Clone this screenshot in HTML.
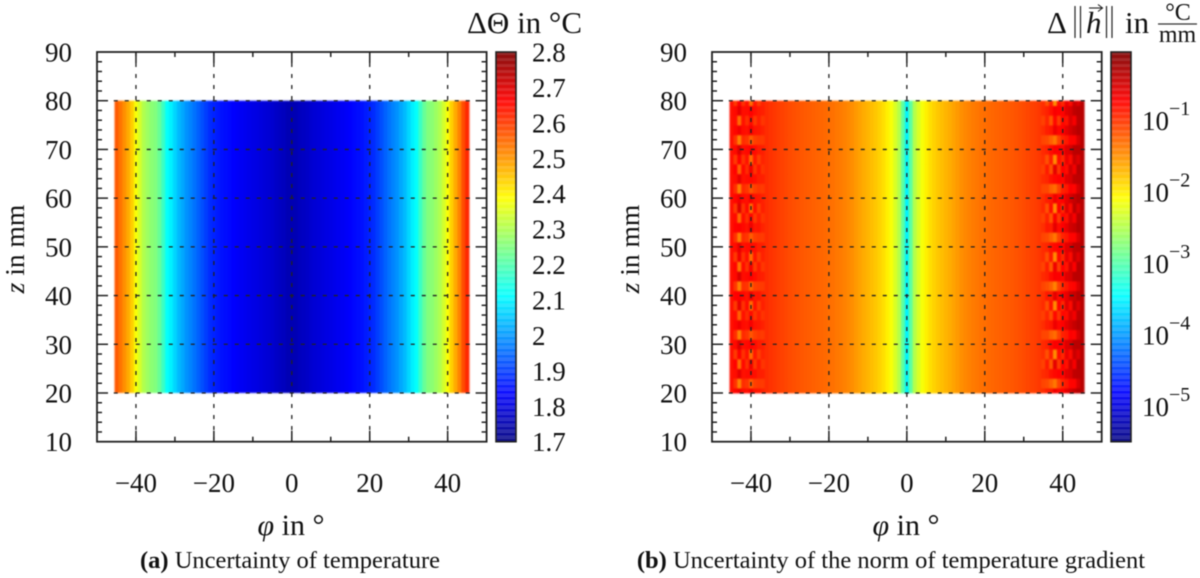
<!DOCTYPE html>
<html lang="en">
<head>
<meta charset="utf-8">
<title>Uncertainty heatmaps</title>
<style>
html,body{margin:0;padding:0;background:#fff;width:1200px;height:578px;overflow:hidden}
svg{display:block;filter:blur(.4px);font-family:"Liberation Serif","DejaVu Serif",serif;fill:#111}
.heat{filter:blur(.7px)}
</style>
</head>
<body>
<svg id="fig" width="1200" height="578" viewBox="0 0 1200 578" xmlns="http://www.w3.org/2000/svg">
  <g id="panel-a"></g>
  <g id="panel-b"></g>

  <text x="467" y="33" font-size="31">ΔΘ in °C</text>
  <text transform="translate(24,249) rotate(-90)" text-anchor="middle" font-size="27.5"><tspan font-style="italic">z</tspan> in mm</text>
  <text x="291" y="535" text-anchor="middle" font-size="30"><tspan font-style="italic">φ</tspan> in °</text>
  <text x="290" y="568" text-anchor="middle" font-size="24.5"><tspan font-weight="bold">(a)</tspan> Uncertainty of temperature</text>

  <g>
    <text x="1047" y="33" font-size="31">Δ</text>
    <line x1="1075" x2="1075" y1="6" y2="38" stroke="#222" stroke-width="1.2"></line>
    <line x1="1080.5" x2="1080.5" y1="6" y2="38" stroke="#222" stroke-width="1.2"></line>
    <text x="1086" y="33" font-size="31" font-style="italic">h</text>
    <line x1="1089" x2="1102" y1="8" y2="8" stroke="#222" stroke-width="1.1"></line>
    <polyline points="1098,4.5 1102.5,8 1098,11.5" fill="none" stroke="#222" stroke-width="1.1"></polyline>
    <line x1="1106.5" x2="1106.5" y1="6" y2="38" stroke="#222" stroke-width="1.2"></line>
    <line x1="1112" x2="1112" y1="6" y2="38" stroke="#222" stroke-width="1.2"></line>
    <text x="1125" y="33" font-size="31">in</text>
  </g>
  <text x="1178" y="20" text-anchor="middle" font-size="24">°C</text>
  <line x1="1158" x2="1197" y1="24" y2="24" stroke="#333" stroke-width="1.2"></line>
  <text x="1177.5" y="42" text-anchor="middle" font-size="24">mm</text>
  <text transform="translate(639,249) rotate(-90)" text-anchor="middle" font-size="27.5"><tspan font-style="italic">z</tspan> in mm</text>
  <text x="906" y="535" text-anchor="middle" font-size="30"><tspan font-style="italic">φ</tspan> in °</text>
  <text x="891" y="568" text-anchor="middle" font-size="24.5"><tspan font-weight="bold">(b)</tspan> Uncertainty of the norm of temperature gradient</text>
</svg>

<script>
// ---- data ----
const phiValues = [-45,-44,-43,-42,-41,-40,-39,-38,-37,-36,-35,-34,-33,-32,-31,-30,-29,-28,-27,-26,-25,-24,-23,-22,-21,-20,-19,-18,-17,-16,-15,-14,-13,-12,-11,-10,-9,-8,-7,-6,-5,-4,-3,-2,-1,0,1,2,3,4,5,6,7,8,9,10,11,12,13,14,15,16,17,18,19,20,21,22,23,24,25,26,27,28,29,30,31,32,33,34,35,36,37,38,39,40,41,42,43,44,45];
const temperatureUncertainty = [2.566,2.537,2.508,2.478,2.439,2.38,2.341,2.302,2.282,2.262,2.253,2.224,2.175,2.116,2.097,2.068,2.038,2.019,1.995,1.98,1.961,1.942,1.922,1.903,1.884,1.874,1.865,1.855,1.85,1.845,1.836,1.831,1.826,1.821,1.816,1.811,1.807,1.802,1.797,1.792,1.787,1.777,1.772,1.767,1.757,1.755,1.757,1.767,1.772,1.777,1.787,1.792,1.797,1.802,1.807,1.811,1.816,1.821,1.826,1.831,1.836,1.845,1.85,1.855,1.865,1.874,1.884,1.903,1.922,1.942,1.961,1.98,1.995,2.019,2.038,2.068,2.097,2.116,2.175,2.224,2.253,2.262,2.282,2.302,2.341,2.38,2.439,2.478,2.52,2.58,2.62];
const gradientUncertainty = [0.152,0.145,0.145,0.142,0.139,0.135,0.13,0.122,0.115,0.108,0.1,0.094,0.088,0.083,0.078,0.074,0.07,0.067,0.064,0.061,0.059,0.057,0.055,0.053,0.051,0.048,0.046,0.043,0.041,0.038,0.035,0.032,0.028,0.025,0.022,0.02,0.018,0.016,0.014,0.012,0.0097,0.0074,0.0051,0.0033,0.0011,0.0003,0.0011,0.0033,0.0051,0.0074,0.0097,0.012,0.014,0.016,0.018,0.02,0.022,0.025,0.028,0.032,0.035,0.038,0.041,0.043,0.046,0.048,0.051,0.053,0.055,0.057,0.059,0.061,0.064,0.067,0.07,0.074,0.078,0.083,0.088,0.094,0.1,0.108,0.115,0.13,0.145,0.16,0.22,0.26,0.32,0.39,0.44];
const zRows = [20,22,24,26,28,30,32,34,36,38,40,42,44,46,48,50,52,54,56,58,60,62,64,66,68,70,72,74,76,78,80];
const edgeRipple = [0.3,-1,0.4,-0.8,0.2,0.5,-1,0.3,-0.7,0.4,0.2,-1,0.5,-0.9,0.3,0.4,-1,0.2,-0.8,0.5,0.3,-1,0.4,-0.7,0.2,0.5,-1,0.3,-0.8,0.4,0.2];
const edgePhi = [-44,-43,-42,-41,-40,-39,-38,-37,35,36,37,38,39,40,41,42,43,44];
const edgeWeight = [0.2,0.6,0.15,0.15,0.45,0.18,0.15,0.1,0.1,0.2,0.3,0.6,0.25,0.15,0.2,0.2,0.25,0.15];
const xMajorTicks = [-40,-20,0,20,40];
const xMinorTicks = [-30,-10,10,30];
const yMajorTicks = [10,20,30,40,50,60,70,80,90];
const yGridValues = [20,30,40,50,60,70,80];
const colorbarTicksA = [1.7,1.8,1.9,2,2.1,2.2,2.3,2.4,2.5,2.6,2.7,2.8];
const colorbarExponentsB = [-5,-4,-3,-2,-1];

// ---- helpers ----
const SVGNS = 'http://www.w3.org/2000/svg';
function make(tag, parent, attrs){
  const e = document.createElementNS(SVGNS, tag);
  for (const k in attrs) e.setAttribute(k, attrs[k]);
  parent.appendChild(e);
  return e;
}
function clamp01(v){ return Math.max(0, Math.min(1, v)); }
function jet(t){
  t = clamp01(t);
  const r = clamp01(1.5 - Math.abs(4*t - 3));
  const g = clamp01(1.5 - Math.abs(4*t - 2));
  const b = clamp01(1.5 - Math.abs(4*t - 1));
  return 'rgb(' + Math.round(r*255) + ',' + Math.round(g*255) + ',' + Math.round(b*255) + ')';
}
const TOP = 52, BOTTOM = 441.7;
function yScale(z){ return BOTTOM - (z - 10) / 80 * (BOTTOM - TOP); }

function drawFrame(g, left, right){
  const xScale = p => left + (p + 50) / 100 * (right - left);
  // dashed grid
  xMajorTicks.forEach(function(p){
    const l = make('line', g, {x1:xScale(p), x2:xScale(p), y1:TOP, y2:BOTTOM, stroke:'#222', 'stroke-width':1.3, 'stroke-dasharray':'4 7'});
    
    
  });
  yGridValues.forEach(function(z){
    const l = make('line', g, {x1:xScale(-45.7), x2:xScale(45.7), y1:yScale(z), y2:yScale(z), stroke:'#222', 'stroke-width':1.3, 'stroke-dasharray':'4 7'});
    
    
  });
  // x ticks (bottom and top)
  xMajorTicks.forEach(function(p){
    [[BOTTOM, BOTTOM-11],[TOP, TOP+11]].forEach(function(pair){
      const t = make('line', g, {x1:xScale(p), x2:xScale(p), y1:pair[0], y2:pair[1], stroke:'#222', 'stroke-width':1.5});
      
      
    });
    const lab = make('text', g, {x:xScale(p), y:492, 'text-anchor':'middle', 'font-size':27});
    lab.textContent = (p < 0 ? '\u2212' + (-p) : String(p));
    
    
  });
  xMinorTicks.forEach(function(p){
    [[BOTTOM, BOTTOM-5],[TOP, TOP+5]].forEach(function(pair){
      const t = make('line', g, {x1:xScale(p), x2:xScale(p), y1:pair[0], y2:pair[1], stroke:'#222', 'stroke-width':1.5});
      
      
    });
  });
  // y ticks (left and right)
  for (let z = 12; z < 90; z += 2){
    const major = (z % 10 === 0);
    const len = major ? 11 : 5;
    [[left, left+len],[right, right-len]].forEach(function(pair){
      const t = make('line', g, {x1:pair[0], x2:pair[1], y1:yScale(z), y2:yScale(z), stroke:'#222', 'stroke-width':1.5});
      
      
    });
  }
  yMajorTicks.forEach(function(z){
    const lab = make('text', g, {x:left-25, y:yScale(z)+9.5, 'text-anchor':'end', 'font-size':27});
    lab.textContent = String(z);
    
    
  });
  const f = make('rect', g, {x:left, y:TOP, width:right-left, height:BOTTOM-TOP, fill:'none', stroke:'#222', 'stroke-width':1.8});
  
  
}

function drawColorbar(g, left, colorAt){
  const levels = 130;
  const step = (BOTTOM - TOP) / levels;
  for (let i = 0; i < levels; i++){
    const t = (i + 0.5) / levels;
    const b = make('rect', g, {x:left, y:BOTTOM - (i+1)*step, width:20, height:step + 0.1, fill:colorAt(t), 'fill-opacity':(i % 2 ? 0.84 : 0.94)});
    
    
  }
  const f = make('rect', g, {x:left, y:TOP, width:20, height:BOTTOM-TOP, fill:'none', stroke:'#222', 'stroke-width':1.6});
  
  
}

// ---- panel a ----
(function(){
  const g = document.getElementById('panel-a');
  const left = 97, right = 486.6;
  const xScale = p => left + (p + 50) / 100 * (right - left);
  const cMin = 1.7, cMax = 2.8;
  const heat = make('g', g, {'class':'heat'});
  
  
  phiValues.forEach(function(p, i){
    const r = make('rect', heat, {x:xScale(p-0.5), y:yScale(80), width:xScale(p+0.5)-xScale(p-0.5)+0.4, height:yScale(20)-yScale(80), fill:jet((temperatureUncertainty[i]-cMin)/(cMax-cMin))});
    
    
  });
  drawFrame(g, left, right);
  drawColorbar(g, 496, jet);
  colorbarTicksA.forEach(function(v){
    const y = BOTTOM - (v-cMin)/(cMax-cMin)*(BOTTOM-TOP);
    const lab = make('text', g, {x:532, y:y+9.5, 'font-size':27});
    lab.textContent = String(v);
    
    
  });
})();

// ---- panel b ----
(function(){
  const g = document.getElementById('panel-b');
  const left = 712, right = 1101.7;
  const xScale = p => left + (p + 50) / 100 * (right - left);
  const logMin = -5.5, logMax = -0.05;
  const colorT = lv => (lv - logMin) / (logMax - logMin);
  const heat = make('g', g, {'class':'heat'});
  
  
  phiValues.forEach(function(p, i){
    const w = edgePhi.indexOf(p) >= 0 ? edgeWeight[edgePhi.indexOf(p)] : 0;
    zRows.forEach(function(z, k){
      const zLow = Math.max(20, z - 1), zHigh = Math.min(80, z + 1);
      const lv = Math.log10(gradientUncertainty[i]) + w * edgeRipple[(k + 2 * (i % 2)) % edgeRipple.length];
      const r = make('rect', heat, {x:xScale(p-0.5), y:yScale(zHigh), width:xScale(p+0.5)-xScale(p-0.5)+0.4, height:yScale(zLow)-yScale(zHigh)+0.4, fill:jet(colorT(lv))});
      
      
    });
  });
  drawFrame(g, left, right);
  drawColorbar(g, 1111, jet);
  colorbarExponentsB.forEach(function(ex){
    const y = BOTTOM - colorT(ex)*(BOTTOM-TOP);
    const lab = make('text', g, {x:1142, y:y+10, 'font-size':27});
    
    
    lab.textContent = '10';
    const sup = make('tspan', lab, {dy:-15, 'font-size':20});
    sup.textContent = '\u2212' + (-ex);
  });
})();
</script>
</body>
</html>
